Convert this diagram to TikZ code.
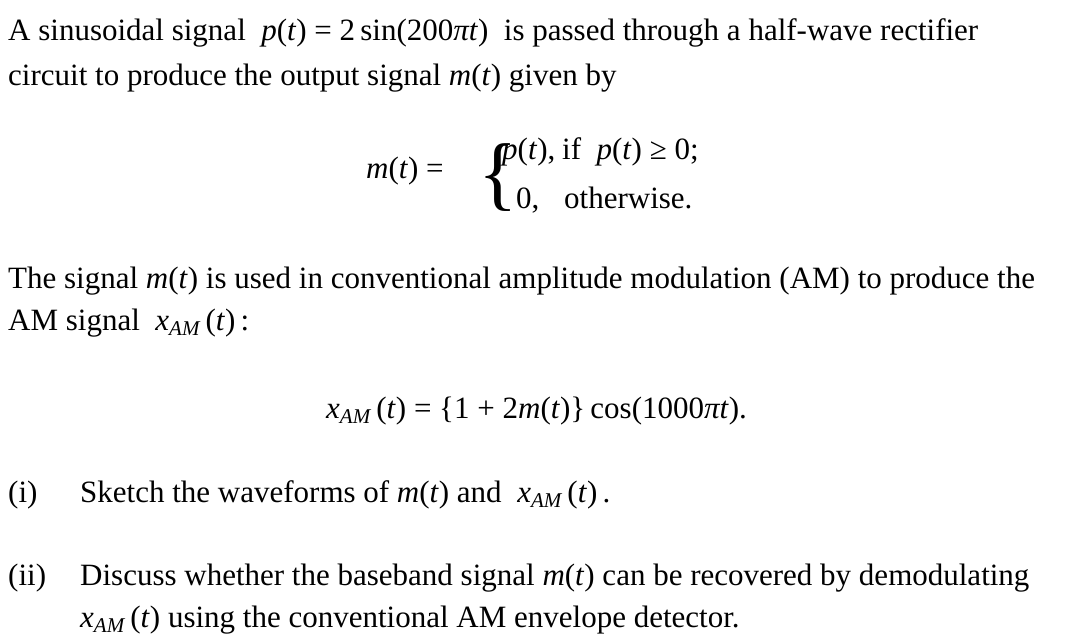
\documentclass[tikz,border=0pt]{standalone}
\usepackage{fontspec}
\setmainfont{Liberation Serif}
\newcommand{\iv}[1]{\textit{#1}}
\newcommand{\xam}{\iv{x}\raisebox{-0.4ex}{\fontsize{21}{21}\selectfont\iv{AM}}\,(\iv{t})}
\begin{document}
\begin{tikzpicture}[x=1pt,y=-1pt,
  txt/.style={anchor=base west,inner sep=0pt,font=\fontsize{31}{45}\selectfont}]
\useasboundingbox (0,0) rectangle (1067,640);
\node[txt] (l1a) at (8,40) {A sinusoidal signal \ \iv{p}(\iv{t}) = 2\,sin(200\iv{πt}) \ is passed through a half-wave rectifier};
\node[txt] (l1b) at (8,85) {circuit to produce the output signal \iv{m}(\iv{t}) given by};
\node[txt] (m) at (366,178) {\iv{m}(\iv{t}) =};
\node[txt,font=\fontsize{82}{82}\selectfont] (br) at (478,200) {\{};
\node[txt] (c1) at (502,159) {\iv{p}(\iv{t}),};
\node[txt] (c2) at (516,208) {0,};
\node[txt] (c3) at (562,159) {if \ \iv{p}(\iv{t}) ≥ 0;};
\node[txt] (c4) at (564,208) {otherwise.};
\node[txt] (l2a) at (8,288) {The signal \iv{m}(\iv{t}) is used in conventional amplitude modulation (AM) to produce the};
\node[txt] (l2b) at (8,330) {AM signal \ \xam\,:};
\node[txt] (eq) at (326,418) {\xam\ = \{1 + 2\iv{m}(\iv{t})\}\,cos(1000\iv{πt}).};
\node[txt] (i) at (8,502) {(i)};
\node[txt] (it) at (80,502) {Sketch the waveforms of \iv{m}(\iv{t}) and \ \xam\,.};
\node[txt] (ii) at (8,585) {(ii)};
\node[txt] (iit) at (80,585) {Discuss whether the baseband signal \iv{m}(\iv{t}) can be recovered by demodulating};
\node[txt] (iit2) at (80,627) {\xam\ using the conventional AM envelope detector.};
\end{tikzpicture}
\end{document}
